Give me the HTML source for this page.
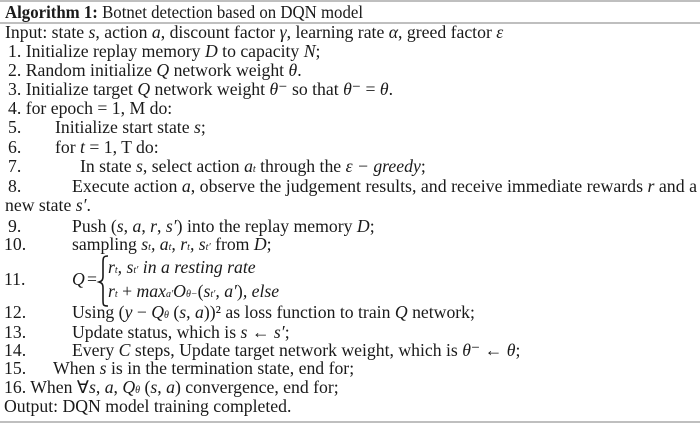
<!DOCTYPE html>
<html><head><meta charset="utf-8"><style>
html,body{margin:0;padding:0;background:#fff;width:700px;height:425px;overflow:hidden}
svg{display:block}
text{font-family:"Liberation Serif",serif;font-size:17.7px;fill:#1a1a1a}
.i{font-style:italic}
</style></head><body>
<svg width="700" height="425" viewBox="0 0 700 425" xmlns="http://www.w3.org/2000/svg">
<line x1="0" y1="1" x2="700" y2="1" stroke="#aaa" stroke-width="1.5"/>
<line x1="0" y1="23" x2="700" y2="23" stroke="#aaa" stroke-width="1.5"/>
<line x1="0" y1="422" x2="700" y2="422" stroke="#aaa" stroke-width="1.5"/>

<text x="5" y="18" textLength="358" lengthAdjust="spacingAndGlyphs"><tspan font-weight="bold">Algorithm 1:</tspan> Botnet detection based on DQN model</text>
<text x="5" y="38">Input: state <tspan class="i">s</tspan>, action <tspan class="i">a</tspan>, discount factor <tspan class="i">γ</tspan>, learning rate <tspan class="i">α</tspan>, greed factor <tspan class="i">ε</tspan></text>
<text x="8" y="57">1. Initialize replay memory <tspan class="i">D</tspan>  to capacity <tspan class="i">N</tspan>;</text>
<text x="8" y="76">2. Random initialize <tspan class="i">Q</tspan> network weight <tspan class="i">θ</tspan>.</text>
<text x="8" y="95">3. Initialize target <tspan class="i">Q</tspan>  network weight  <tspan class="i">θ</tspan>⁻  so that <tspan class="i">θ</tspan>⁻ = <tspan class="i">θ</tspan>.</text>
<text x="8" y="114">4. for epoch = 1, M do:</text>
<text x="8" y="133">5.</text>
<text x="55" y="133">Initialize start state <tspan class="i">s</tspan>;</text>
<text x="8" y="153">6.</text>
<text x="55" y="153">for  <tspan class="i">t</tspan> = 1, T do:</text>
<text x="8" y="172">7.</text>
<text x="80" y="172">In state <tspan class="i">s</tspan>, select action <tspan class="i">a<tspan font-size="10">t</tspan></tspan>  through the  <tspan class="i">ε − greedy</tspan>;</text>
<text x="8" y="192">8.</text>
<text x="72" y="192" textLength="625" lengthAdjust="spacingAndGlyphs">Execute action <tspan class="i">a</tspan>, observe  the judgement results,  and receive immediate rewards <tspan class="i">r</tspan>  and a</text>
<text x="5" y="211">new state <tspan class="i">s′</tspan>.</text>
<text x="8" y="232">9.</text>
<text x="72" y="232">Push (<tspan class="i">s</tspan>, <tspan class="i">a</tspan>, <tspan class="i">r</tspan>, <tspan class="i">s′</tspan>) into the replay memory <tspan class="i">D</tspan>;</text>
<text x="4" y="250">10.</text>
<text x="72" y="250">sampling <tspan class="i">s<tspan font-size="10">t</tspan>, a<tspan font-size="10">t</tspan>, r<tspan font-size="10">t</tspan>, s<tspan font-size="10">t′</tspan></tspan>  from  <tspan class="i">D</tspan>;</text>
<text x="4" y="285">11.</text>
<text x="72" y="285" class="i">Q</text><text x="87" y="285">=</text>
<path d="M108 256 C103 256 103 258 103 263 L103 276 C103 280 102 281 99 282 C102 283 103 284 103 288 L103 300 C103 305 103 306 108 306" fill="none" stroke="#1a1a1a" stroke-width="1.6"/>
<text x="108" y="273" class="i">r<tspan font-size="10">t</tspan>,  s<tspan font-size="10">t′</tspan> in a resting rate</text>
<text x="108" y="297" class="i">r<tspan font-size="10">t</tspan> <tspan font-style="normal">+</tspan> max<tspan font-size="10">a′</tspan>O<tspan font-size="10">θ−</tspan><tspan font-style="normal">(</tspan>s<tspan font-size="10">t′</tspan>, a′<tspan font-style="normal">)</tspan>, else</text>
<text x="4" y="318">12.</text>
<text x="72" y="318">Using (<tspan class="i">y</tspan> − <tspan class="i">Q<tspan font-size="10">θ</tspan></tspan> (<tspan class="i">s</tspan>, <tspan class="i">a</tspan>))²  as loss function to train <tspan class="i">Q</tspan>  network;</text>
<text x="4" y="338">13.</text>
<text x="72" y="338">Update status,  which is <tspan class="i">s</tspan> ← <tspan class="i">s′</tspan>;</text>
<text x="4" y="356">14.</text>
<text x="72" y="356">Every <tspan class="i">C</tspan>  steps,  Update target network weight,  which is <tspan class="i">θ</tspan>⁻ ← <tspan class="i">θ</tspan>;</text>
<text x="4" y="374">15.</text>
<text x="53" y="374">When <tspan class="i">s</tspan>  is in the termination state, end for;</text>
<text x="4" y="393">16. When ∀<tspan class="i">s</tspan>, <tspan class="i">a</tspan>, <tspan class="i">Q<tspan font-size="10">θ</tspan></tspan> (<tspan class="i">s</tspan>, <tspan class="i">a</tspan>) convergence,  end for;</text>
<text x="4" y="412">Output: DQN model training completed.</text>
</svg>
</body></html>
